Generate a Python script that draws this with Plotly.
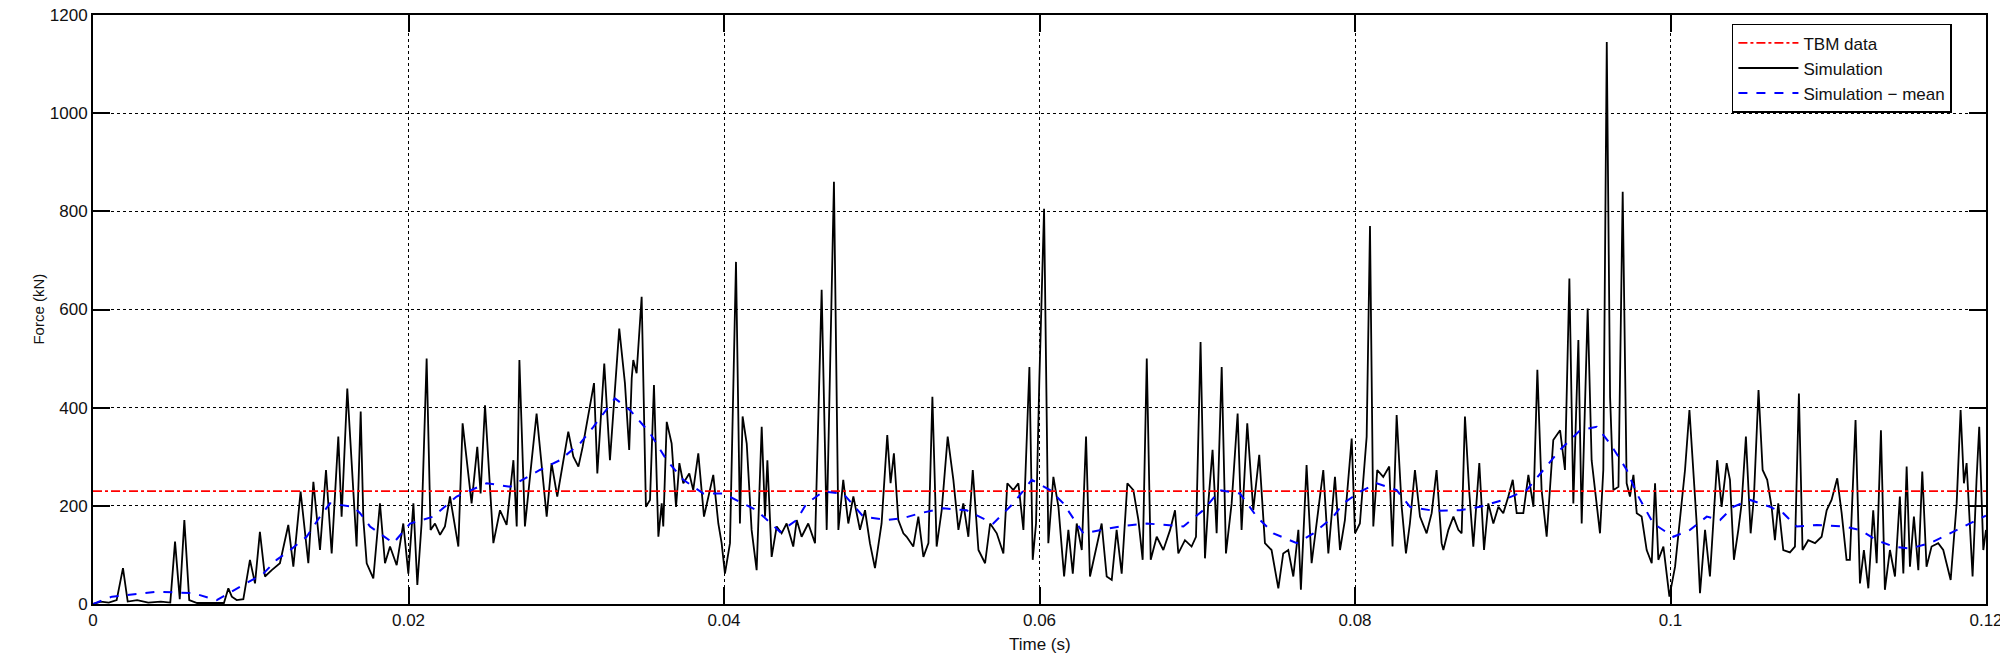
import plotly.graph_objects as go

# ---- data (time in ms, force in kN) ----
sim_t_ms = [
    0.0, 0.5, 1.0, 1.5, 1.9, 2.2, 2.8, 3.5, 4.3, 4.9, 5.2, 5.5, 5.79, 6.1, 6.6, 7.5, 8.3,
    8.58, 8.8, 9.11, 9.53, 9.95, 10.27, 10.58, 10.90, 11.33, 11.85, 12.38, 12.70, 13.16,
    13.65, 13.97, 14.39, 14.77, 15.13, 15.55, 15.76, 16.12, 16.40, 16.71, 16.97,
    17.14, 17.35, 17.77, 18.19, 18.51, 18.83, 19.25, 19.67, 19.99, 20.31, 20.56, 20.83,
    21.15, 21.40, 21.68, 22.0, 22.31, 22.63, 23.16, 23.43, 24.0, 24.36, 24.57, 24.85,
    25.38, 25.8, 26.22, 26.65, 26.86, 27.03, 27.38, 27.81, 28.12, 28.76, 29.07, 29.43,
    30.13, 30.45, 30.77, 31.04, 31.40, 31.76, 31.97, 32.41, 32.77, 33.36, 33.72, 33.99,
    34.15, 34.25, 34.46, 34.78, 35.05, 35.31, 35.56, 35.84, 36.05, 36.15, 36.37, 36.68,
    36.96, 37.17, 37.42, 37.80, 38.05, 38.37, 38.73, 39.0, 39.32, 39.64, 39.85, 40.06,
    40.38, 40.76, 41.01, 41.18, 41.44, 41.75, 42.07, 42.39, 42.60, 42.75, 43.02, 43.34,
    43.65, 43.97, 44.39, 44.61, 44.92, 45.34, 45.77, 46.19, 46.51, 46.97, 47.25, 47.56,
    47.88, 48.2, 48.62, 48.94, 49.25, 49.57, 49.99, 50.35, 50.56, 50.77, 51.05, 51.37,
    51.58, 52.0, 52.32, 52.64, 52.96, 53.21, 53.48, 53.80, 54.18, 54.54, 54.86, 55.17,
    55.49, 55.77, 56.13, 56.55, 56.87, 57.29, 57.71, 57.96, 58.34, 58.66, 58.98, 59.36,
    59.57, 59.78, 59.99, 60.29, 60.56, 60.88, 61.2, 61.56, 61.83, 62.11, 62.36, 62.68,
    62.95, 63.2, 63.63, 63.94, 64.26, 64.58, 64.89, 65.21, 65.57, 65.95, 66.27, 66.54,
    66.80, 67.05, 67.43, 67.85, 68.28, 68.59,
    68.8, 69.22, 69.64, 69.92, 70.21, 70.49, 70.70, 70.97, 71.23, 71.55, 71.82, 72.18,
    72.56, 72.81, 73.17, 73.55, 73.93, 74.29, 74.71, 75.14, 75.45, 75.77, 76.09, 76.41,
    76.57, 76.93, 77.25, 77.57, 77.99, 78.31, 78.73, 79.05, 79.36, 79.79, 80.0, 80.31,
    80.74, 80.95, 81.16, 81.41, 81.79, 82.17, 82.38, 82.64, 82.96, 83.23, 83.48, 83.80,
    84.12, 84.54, 84.86, 85.17, 85.49,
    85.6, 85.92, 86.24, 86.55, 86.76, 86.97, 87.25, 87.5, 87.88, 88.18, 88.45, 88.77,
    89.09, 89.4, 89.72, 90.0, 90.25, 90.67, 90.99, 91.31, 91.56, 91.83, 92.15, 92.57,
    93.0, 93.31, 93.59, 93.84, 94.16, 94.37, 94.75, 95.0, 95.53, 95.74, 95.96, 96.17,
    96.38, 96.7, 96.97, 97.22, 97.43, 97.65, 97.86, 98.17, 98.49, 98.81, 99.02, 99.23,
    99.55, 99.93, 100.29, 100.71, 100.92, 101.2, 101.45, 101.66, 101.87, 102.19,
    102.5, 102.96, 103.24, 103.56, 103.77, 104.02, 104.30, 104.51, 104.78, 105.08,
    105.29, 105.58, 105.84, 106.13, 106.41, 106.62, 106.83, 107.15, 107.57, 107.89,
    108.14, 108.37, 108.73, 109.16, 109.58, 109.9, 110.21, 110.57, 110.85, 111.16,
    111.37, 111.73, 112.01, 112.26, 112.54, 112.85, 113.07, 113.34, 113.59, 113.91,
    114.23, 114.54, 114.76, 114.97, 115.18, 115.43, 115.71, 115.96, 116.23, 116.55,
    116.97, 117.29, 117.76, 118.14, 118.39, 118.6, 118.77, 119.15, 119.4, 119.57,
    119.83, 120.0,
]
sim_force = [
    0, 5, 3, 8, 73, 5, 8, 3, 5, 3, 127, 10, 171, 8, 2, 2, 2,
    32, 15, 8, 10, 90, 42, 147, 56, 69, 83, 161, 76, 229,
    83, 249, 110, 273, 103, 341, 178, 439, 287, 117, 392,
    171, 83, 52, 205, 83, 117, 79, 164, 62, 205, 39, 164,
    500, 151, 164, 141, 158, 219, 117, 368, 205, 320, 225, 405,
    124, 191, 161, 293, 158, 497, 158, 293, 388, 178, 287, 219,
    351, 300, 280, 320, 382, 450, 266, 490, 293, 561, 450, 314,
    460, 497, 470, 626, 198, 212, 446, 137, 205, 158, 371, 327,
    198, 287, 246, 266, 232, 307, 178, 219, 263, 164, 124, 62,
    124, 697, 164, 382, 327, 151, 69, 361, 178, 293, 96, 158,
    144, 164, 117, 171, 137, 164, 124, 640, 151, 860, 151, 253,
    164, 219, 151, 191, 124, 73, 164, 344, 246, 307, 171, 144,
    137, 117, 178, 96, 124, 422, 117, 191, 341, 253, 151, 205,
    137, 273, 110, 83, 164, 144, 103, 246, 232, 246, 151, 483,
    90, 164, 456, 805, 124, 259, 198, 56, 151, 62, 164, 110,
    341, 56, 117, 164, 56, 49, 151, 62, 246, 232, 171, 90,
    500, 90, 137, 110, 151, 191,
    103, 130, 117, 137, 534, 93, 205, 314, 144, 483, 103, 205,
    388, 151, 368, 191, 304, 124, 110, 32, 103, 110, 56, 151,
    29, 283, 83, 164, 273, 103, 259, 110, 171, 337, 144, 164,
    341, 770, 158, 273, 259, 280, 117, 385, 198, 103, 164, 273,
    178, 144, 185, 273, 124,
    110, 151, 178, 151, 144, 382, 225, 117, 287, 110, 205, 164,
    198, 185, 219, 253, 185, 185, 263, 198, 477, 232, 137, 334,
    354, 273, 663, 205, 538, 164, 602, 293, 144, 273, 1145, 422,
    232, 239, 840, 246, 219, 263, 185, 178, 110, 83, 246, 90,
    117, 15, 76, 205, 273, 395, 273, 164, 22, 151,
    56, 293, 198, 287, 253, 90, 151, 205, 341, 144,
    219, 436, 273, 253, 198, 130, 205, 110, 105, 117,
    429, 110, 130, 124, 137, 191, 212, 256, 185, 90,
    90, 375, 42, 110, 32, 191, 83, 354, 29, 110,
    56, 219, 62, 280, 76, 178, 69, 270, 76, 117,
    124, 110, 49, 205, 395, 246, 287, 56, 253, 361,
    110, 151,
]

mean_t_ms = [
    0.0, 1.2, 4.04, 6.36, 7.84, 9.3, 10.8, 11.64, 12.5, 13.54, 14.39, 15.02, 16.5,
    16.93, 17.56, 19.04, 20.1, 21.57, 23.05, 24.95, 26.44, 28.33, 29.6, 30.87, 31.72,
    33.09, 34.04, 35.31, 36.37, 37.42, 38.69, 39.96, 40.8, 42.07, 43.55, 44.6, 45.24,
    46.3, 47.56, 48.83, 50.31, 51.37, 52.43, 53.9, 55.38, 57.07, 58.34, 59.51, 60.67,
    61.51, 62.78, 63.84, 65.1, 66.8, 68.06, 69.12, 70.38, 71.44, 72.71, 73.77, 74.83,
    76.31, 77.36, 78.63, 79.26, 80.32, 81.38, 82.64, 83.49, 84.97, 86.66, 87.93, 89.4,
    90.88, 91.94, 93.0, 94.27, 95.32, 96.17, 97.23, 97.86, 98.91, 100.18, 101.24,
    102.3, 103.14, 103.98, 105.04, 106.31, 107.15, 108.0, 109.27, 110.95, 112.01,
    113.07, 114.13, 115.19, 116.45, 117.3, 118.14, 119.41, 120.0,
]
mean_force = [
    0, 15, 25, 22, 8, 35, 62, 90, 110, 137, 178, 205, 198,
    185, 158, 124, 164, 178, 219, 246, 239, 273, 293, 327, 361,
    419, 395, 348, 293, 253, 225, 225, 212, 191, 147, 171, 205,
    229, 225, 178, 171, 175, 185, 195, 191, 164, 205, 253, 232,
    205, 144, 151, 158, 164, 160, 158, 191, 232, 225, 178, 144,
    124, 144, 178, 205, 229, 246, 232, 198, 190, 191, 198, 212,
    232, 273, 314, 354, 361, 327, 273, 225, 164, 137, 151,
    178, 171, 198, 212, 198, 185, 158, 161, 158, 151,
    130, 117, 113, 124, 137, 151, 171, 180,
]

tbm_t_ms = [0.0, 120.0]
tbm_force = [230, 230]

x_tick_vals = [0, 0.02, 0.04, 0.06, 0.08, 0.10, 0.12]
x_tick_text = ["0", "0.02", "0.04", "0.06", "0.08", "0.1", "0.12"]
y_tick_vals = [0, 200, 400, 600, 800, 1000, 1200]

FONT = "Liberation Sans, Arial, sans-serif"
FS = 17
TXT = "#111111"

fig = go.Figure()
fig.add_trace(go.Scatter(
    x=[t / 1000 for t in sim_t_ms], y=sim_force, mode="lines", name="Simulation",
    line=dict(color="black", width=1.8), legendrank=2,
))
fig.add_trace(go.Scatter(
    x=[t / 1000 for t in tbm_t_ms], y=tbm_force, mode="lines", name="TBM data",
    line=dict(color="#ff0000", width=1.6, dash="dashdot"), legendrank=1,
))
fig.add_trace(go.Scatter(
    x=[t / 1000 for t in mean_t_ms], y=mean_force, mode="lines", name="Simulation \u2212 mean",
    line=dict(color="#0000ff", width=2, dash="dash"), legendrank=3,
))

axis_common = dict(
    showline=True, linecolor="black", linewidth=2, mirror="ticks",
    ticks="inside", ticklen=17, tickwidth=2, tickcolor="black",
    showgrid=True, gridcolor="black", gridwidth=1, griddash="dot",
    zeroline=False, automargin=False, ticklabeloverflow="allow",
    tickfont=dict(family=FONT, size=FS, color=TXT),
)

fig.update_layout(
    width=2000, height=654,
    margin=dict(l=93, r=14, t=15, b=50),
    paper_bgcolor="white", plot_bgcolor="white",
    font=dict(family=FONT, size=FS, color=TXT),
    xaxis=dict(range=[0, 0.12], tickvals=x_tick_vals, ticktext=x_tick_text, **axis_common),
    yaxis=dict(range=[0, 1200], tickvals=y_tick_vals, **axis_common),
    legend=dict(
        x=0.982, xanchor="right", y=0.985, yanchor="top",
        bgcolor="white", bordercolor="black", borderwidth=1.5,
        font=dict(family=FONT, size=FS, color=TXT),
        tracegroupgap=0, itemwidth=60,
    ),
    annotations=[
        dict(text="Time (s)", xref="paper", yref="paper", x=0.5, y=-0.0696,
             xanchor="center", yanchor="middle", showarrow=False,
             font=dict(family=FONT, size=FS, color=TXT)),
        dict(text="Force (kN)", xref="paper", yref="paper", x=-0.029, y=0.5,
             xanchor="center", yanchor="middle", showarrow=False, textangle=-90,
             font=dict(family=FONT, size=FS - 2, color=TXT)),
    ],
)

fig.write_html("out.html")
